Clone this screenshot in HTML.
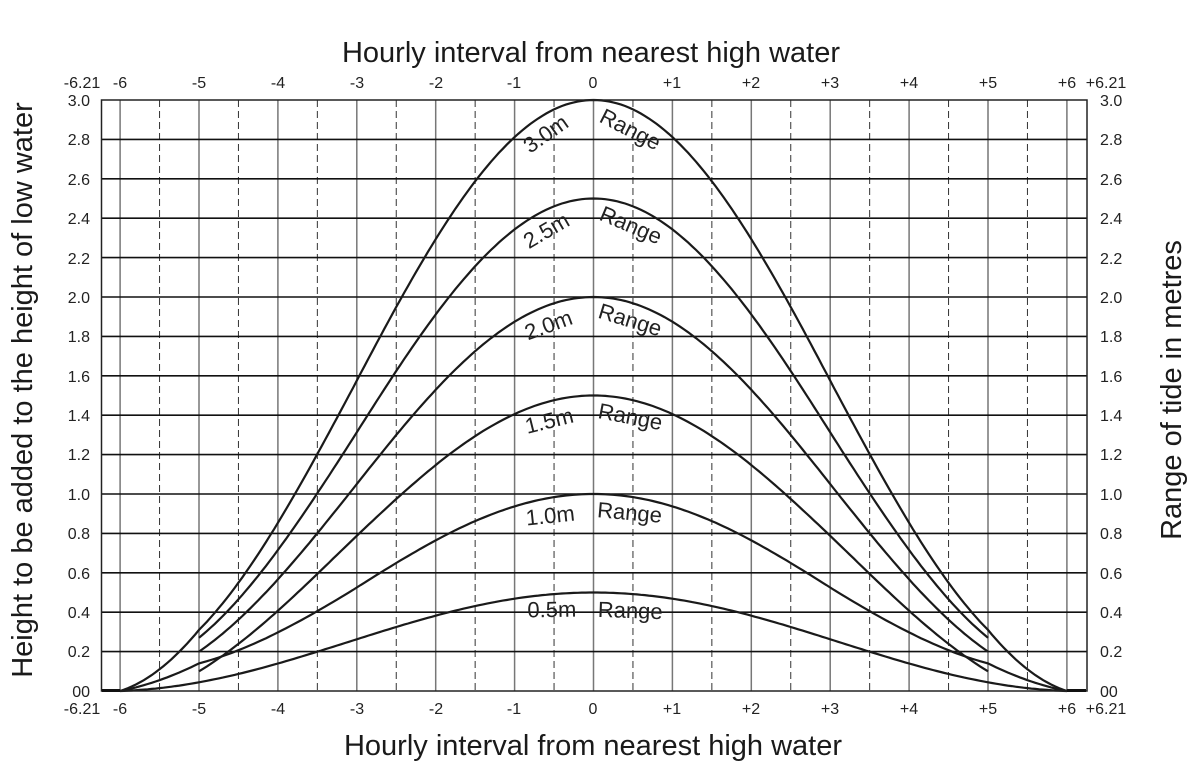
<!DOCTYPE html>
<html><head><meta charset="utf-8"><style>
html,body{margin:0;padding:0;background:#fff;}
svg{display:block;font-family:"Liberation Sans",Arial,sans-serif;}
</style></head><body>
<svg id="s" width="1200" height="780" viewBox="0 0 1200 780" xmlns="http://www.w3.org/2000/svg">
<g id="grid"></g>
<g id="curves" fill="none" stroke="#1a1a1a" stroke-width="2.2"></g>
<rect x="101.5" y="100" width="985.5" height="591" fill="none" stroke="#222" stroke-width="1.5"/>
<line x1="102" y1="690.5" x2="120" y2="690.5" stroke="#111" stroke-width="3"/>
<line x1="1067" y1="690.5" x2="1086" y2="690.5" stroke="#111" stroke-width="3"/>
<g font-size="16" fill="#222" text-anchor="end">
<text x="90" y="106">3.0</text><text x="90" y="145">2.8</text><text x="90" y="185">2.6</text><text x="90" y="224">2.4</text><text x="90" y="264">2.2</text><text x="90" y="303">2.0</text><text x="90" y="342">1.8</text><text x="90" y="382">1.6</text><text x="90" y="421">1.4</text><text x="90" y="460">1.2</text><text x="90" y="500">1.0</text><text x="90" y="539">0.8</text><text x="90" y="579">0.6</text><text x="90" y="618">0.4</text><text x="90" y="657">0.2</text><text x="90" y="697">00</text>
</g>
<g font-size="16" fill="#222" text-anchor="start">
<text x="1100" y="106">3.0</text><text x="1100" y="145">2.8</text><text x="1100" y="185">2.6</text><text x="1100" y="224">2.4</text><text x="1100" y="264">2.2</text><text x="1100" y="303">2.0</text><text x="1100" y="342">1.8</text><text x="1100" y="382">1.6</text><text x="1100" y="421">1.4</text><text x="1100" y="460">1.2</text><text x="1100" y="500">1.0</text><text x="1100" y="539">0.8</text><text x="1100" y="579">0.6</text><text x="1100" y="618">0.4</text><text x="1100" y="657">0.2</text><text x="1100" y="697">00</text>
</g>
<g font-size="16" fill="#222" text-anchor="middle">
<text x="82" y="88">-6.21</text><text x="120" y="88">-6</text><text x="199" y="88">-5</text><text x="278" y="88">-4</text><text x="357" y="88">-3</text><text x="436" y="88">-2</text><text x="514" y="88">-1</text><text x="593" y="88">0</text><text x="672" y="88">+1</text><text x="751" y="88">+2</text><text x="830" y="88">+3</text><text x="909" y="88">+4</text><text x="988" y="88">+5</text><text x="1067" y="88">+6</text><text x="1106" y="88">+6.21</text>
<text x="82" y="714">-6.21</text><text x="120" y="714">-6</text><text x="199" y="714">-5</text><text x="278" y="714">-4</text><text x="357" y="714">-3</text><text x="436" y="714">-2</text><text x="514" y="714">-1</text><text x="593" y="714">0</text><text x="672" y="714">+1</text><text x="751" y="714">+2</text><text x="830" y="714">+3</text><text x="909" y="714">+4</text><text x="988" y="714">+5</text><text x="1067" y="714">+6</text><text x="1106" y="714">+6.21</text>
</g>
<g font-size="29" fill="#1a1a1a" text-anchor="middle">
<text x="591" y="62">Hourly interval from nearest high water</text>
<text x="593" y="755">Hourly interval from nearest high water</text>
<text transform="translate(32,390) rotate(-90)">Height to be added to the height of low water</text>
<text transform="translate(1181,390) rotate(-90)">Range of tide in metres</text>
</g>
<g font-size="22" fill="#222" text-anchor="middle">
<text transform="translate(550,140) rotate(-35)">3.0m</text>
<text transform="translate(627,136) rotate(27)">Range</text>
<text transform="translate(550,237) rotate(-30)">2.5m</text>
<text transform="translate(628,232) rotate(23)">Range</text>
<text transform="translate(551,332) rotate(-20)">2.0m</text>
<text transform="translate(628,327) rotate(17)">Range</text>
<text transform="translate(551,428) rotate(-14)">1.5m</text>
<text transform="translate(629,424) rotate(11)">Range</text>
<text transform="translate(551,523) rotate(-6)">1.0m</text>
<text transform="translate(629,520) rotate(5)">Range</text>
<text transform="translate(552,617) rotate(-1)">0.5m</text>
<text transform="translate(630,618) rotate(2)">Range</text>
</g>
</svg>
<script>
(function(){
var ns="http://www.w3.org/2000/svg";
var X0=593.5,H=78.9,Y0=691,U=197;
function X(t){return X0+t*H;}function Y(v){return Y0-v*U;}
var g=document.getElementById("grid");
function ln(x1,y1,x2,y2,st,w,d){var l=document.createElementNS(ns,"line");l.setAttribute("x1",x1);l.setAttribute("y1",y1);l.setAttribute("x2",x2);l.setAttribute("y2",y2);l.setAttribute("stroke",st);l.setAttribute("stroke-width",w);if(d)l.setAttribute("stroke-dasharray",d);g.appendChild(l);}
for(var i=-6;i<=6;i++){ln(X(i),100,X(i),691,"#777",1.5);}
for(var i=-5.5;i<=5.5;i+=1){ln(X(i),100,X(i),691,"#333",1,"7,4");}
for(var k=1;k<15;k++){ln(101.5,Y(k*0.2),1087,Y(k*0.2),"#111",1.6);}
var c=document.getElementById("curves");
var off=(1+Math.cos(Math.PI*6/6.21))/2;
function f(t){return Math.max(0,((1+Math.cos(Math.PI*t/6.21))/2-off)/(1-off));}
// [R, start t, start value at |t|=5 (null = natural)]
var defs=[[0.5,6,null],[1,6,0.14],[1.5,5,0.1],[2,5,0.2],[2.5,5,0.27],[3,6,0.31]];
defs.forEach(function(a){
 var R=a[0],T=a[1],s=a[2];
 var d="";
 for(var t=-T;t<=T+0.0001;t+=0.05){
  var v=R*f(t);
  if(s!==null){var at=Math.abs(t);var w;
    if(T==5){w=at>=3?Math.pow((at-3)/2,1.5):0;}
    else{w=at<=5?(at>=3?Math.pow((at-3)/2,1.5):0):(6-at);}
    v+= (s-R*f(5))*w;}
  d+=(d?"L":"M")+X(t).toFixed(1)+","+Y(Math.max(0,v)).toFixed(1);}
 var p=document.createElementNS(ns,"path");p.setAttribute("d",d);c.appendChild(p);
});
})();
</script>
</body></html>
